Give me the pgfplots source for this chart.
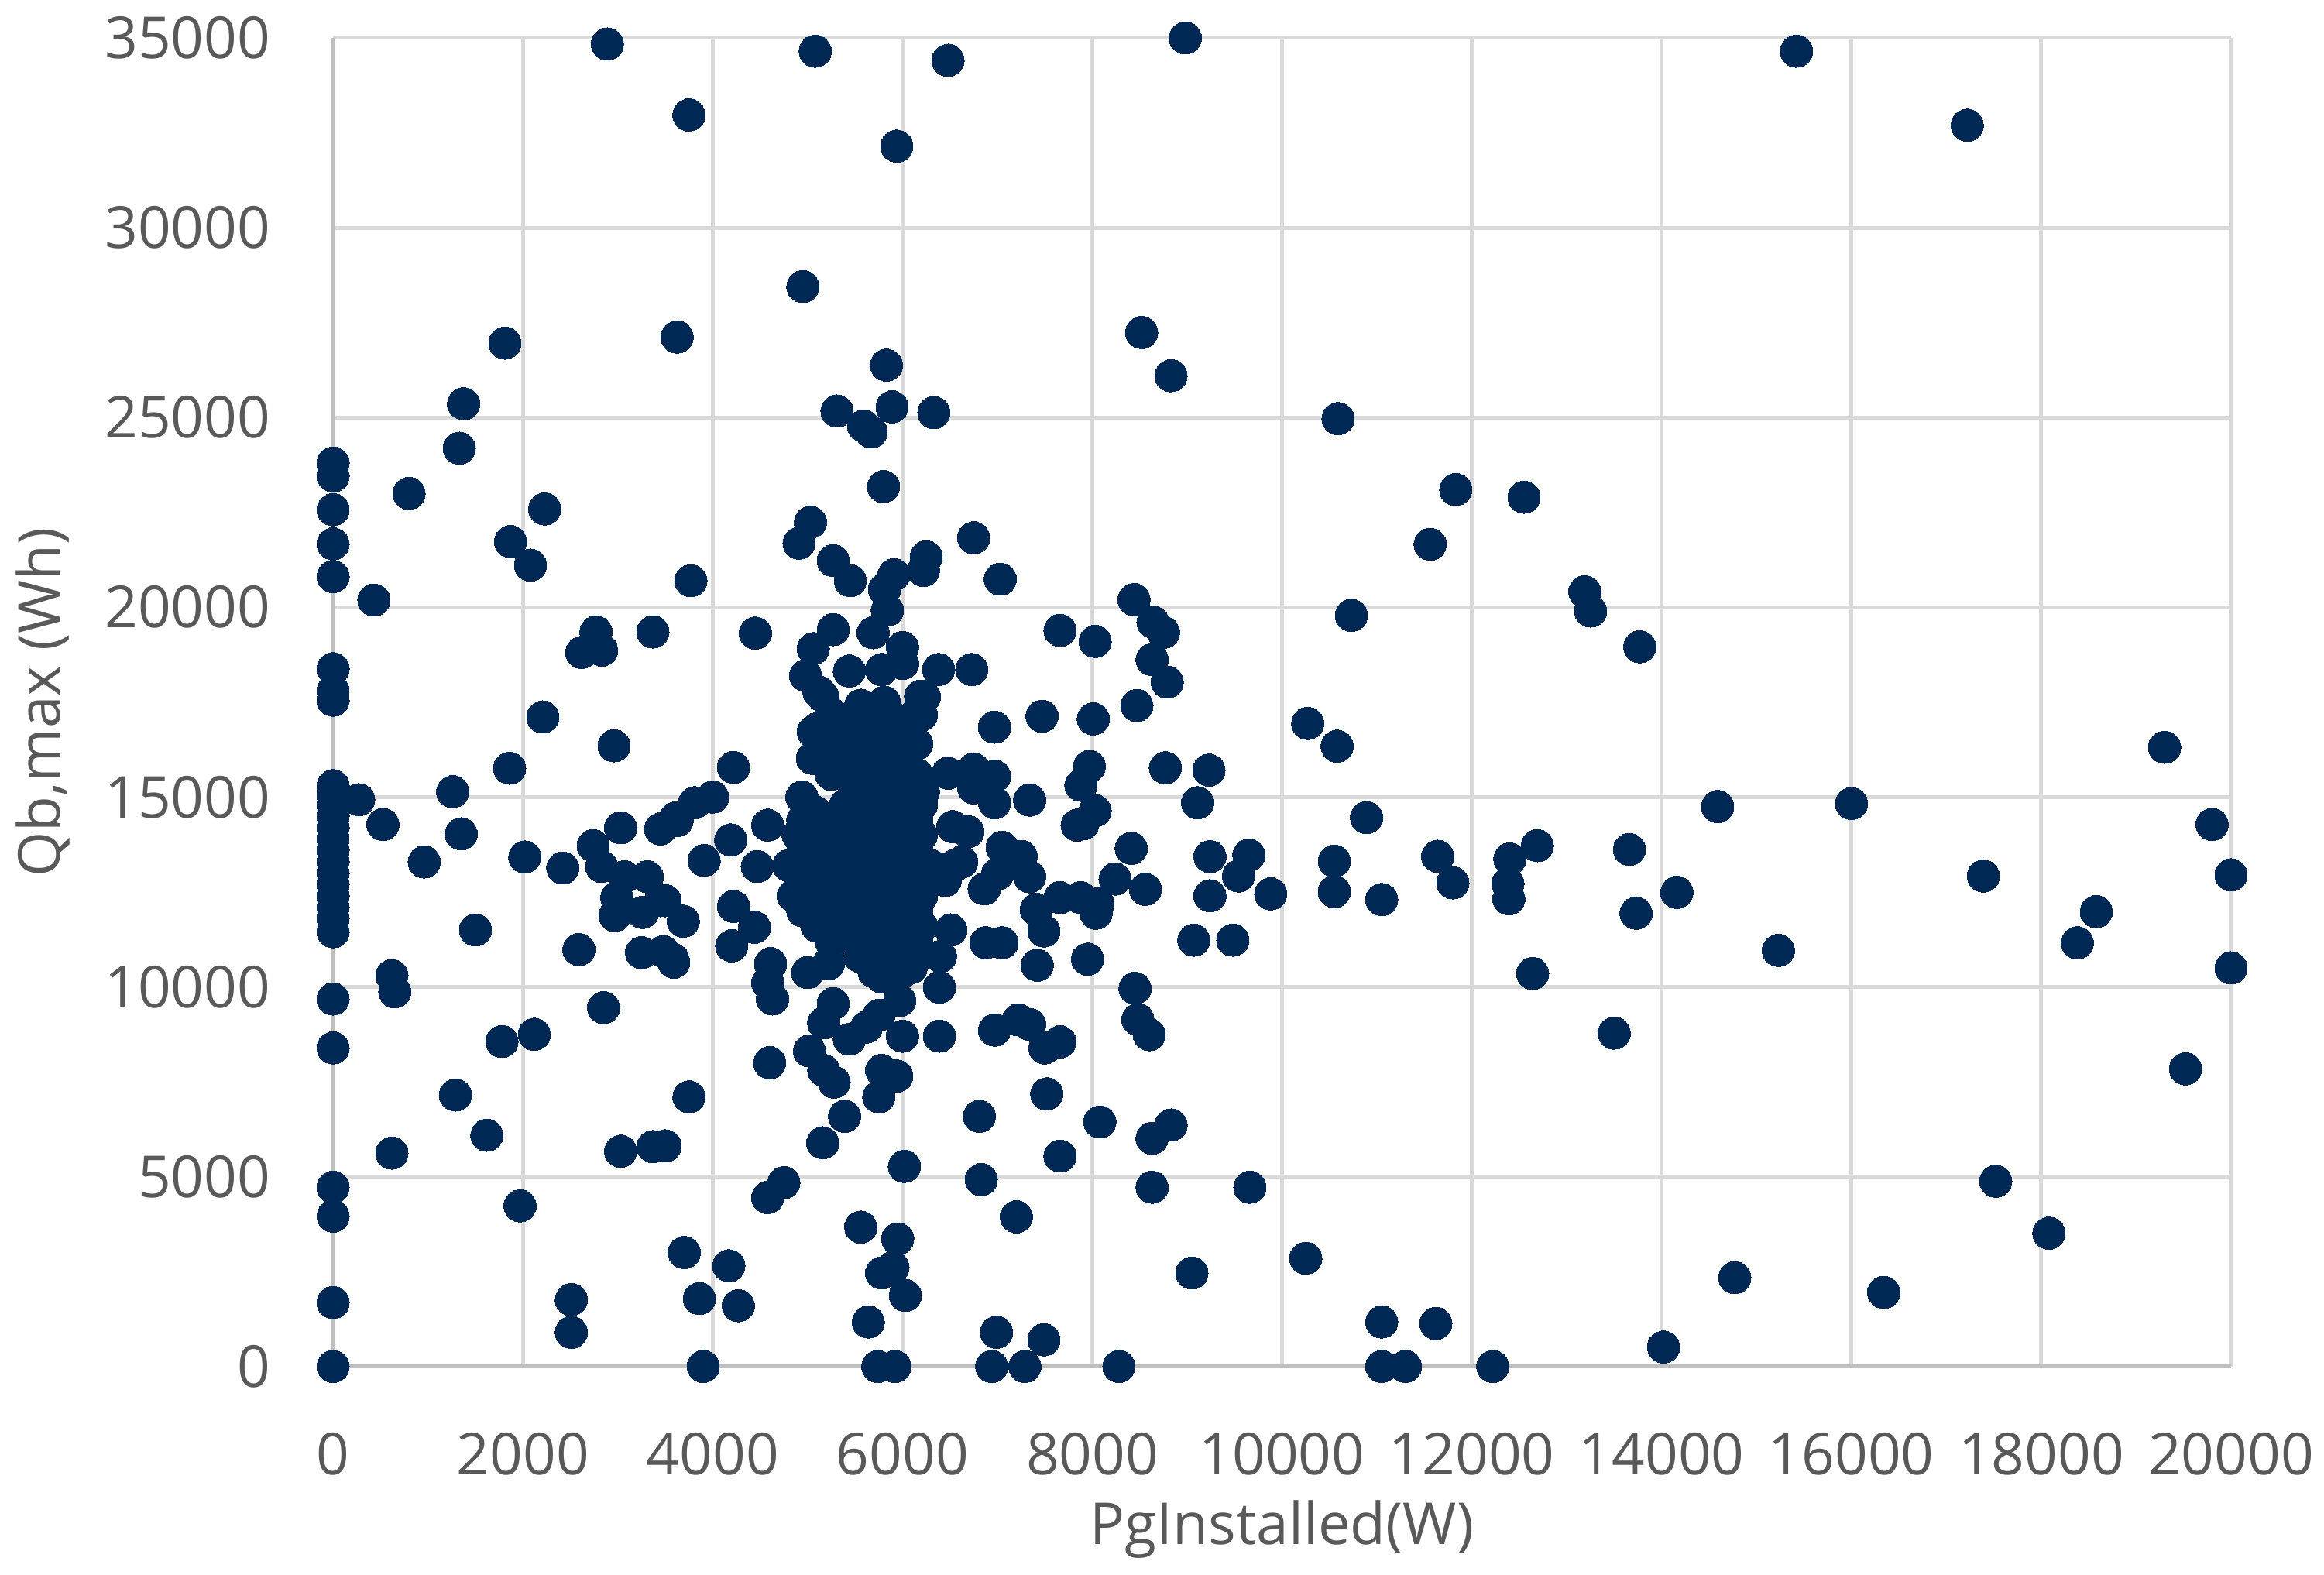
\documentclass[border=0pt]{standalone}
\usepackage{pgfplots}
\pgfplotsset{compat=1.18}
\usepackage{fontspec}
\setmainfont{Open Sans}
\definecolor{navy}{RGB}{0,40,85}
\definecolor{gridgray}{RGB}{217,217,217}
\definecolor{axisgray}{RGB}{191,191,191}
\definecolor{textgray}{RGB}{89,89,89}
\pgfplotstableread{
X Y
2890 34840
5080 34650
6480 34410
8980 35000
15420 34650
17220 32700
3750 32970
5940 32150
4950 28450
3625 27120
1810 26960
5830 26380
8520 27240
8830 26100
1375 25360
5310 25170
5890 25280
6330 25130
5590 24780
5670 24620
10590 24970
1330 24190
0 23800
0 23460
5800 23180
800 23000
11830 23100
12550 22900
0 22570
2230 22590
5030 22240
0 21670
1870 21730
4910 21690
6750 21830
11560 21660
2080 21110
6250 21330
6220 20970
5270 21230
5450 20700
5910 20860
5810 20470
0 20810
3770 20700
7030 20740
430 20190
8440 20200
13190 20410
13250 19900
10730 19790
5840 19920
5270 19410
5690 19330
6000 18940
4450 19320
5060 18910
4980 18200
5440 18320
5780 18360
6000 18520
6380 18360
6730 18360
7660 19390
8030 19100
8640 19610
8750 19340
8630 18620
8790 18030
8470 17410
8010 17060
13770 18960
2770 19350
2620 18810
2830 18870
3370 19350
0 18380
0 17800
0 17550
2210 17110
2960 16350
1860 15760
1260 15140
270 14930
10270 16940
10580 16340
7970 15810
8770 15770
9230 15710
9110 14850
8030 14640
7900 14290
10890 14460
8410 13650
8240 12840
8560 12570
9240 13430
9650 13470
9540 12920
9240 12400
9880 12450
10550 13310
10550 12510
11050 12300
11640 13440
11800 12740
12400 13370
12690 13720
12380 12720
12390 12320
12640 10350
9070 11230
9480 11230
8040 11940
7950 10730
8450 9960
8480 9140
8600 8740
5160 17660
5560 17420
5810 17500
6190 17660
5120 17770
6230 17640
6200 17160
5060 16720
5500 16880
6000 16640
6970 16840
7470 17130
5050 16020
5470 15940
5880 15780
4220 15780
6480 15630
6750 15740
6970 15550
7880 15310
7840 14260
6220 15150
5500 15230
5840 15150
4940 15000
4000 15000
3810 14850
3625 14380
4580 14260
5080 14610
4190 13870
3910 13330
4470 13170
6625 13290
7050 13680
7200 13280
7340 14920
6970 14850
6750 15240
6530 14220
6690 14090
7000 12970
7340 12900
7250 13440
6860 12580
7660 12350
7880 12350
8060 12190
7410 12040
6510 11500
3500 12270
3690 11730
4220 12120
4440 11570
0 15300
0 15050
0 14800
0 14500
0 14200
0 13900
0 13600
0 13300
0 13000
0 12700
0 12400
0 12100
0 11800
0 11450
0 9680
0 8390
0 4720
0 3960
0 1680
0 0
525 14280
1350 14030
960 13290
2020 13420
2420 13130
2740 13720
3030 14190
2830 13170
3070 12900
3310 12900
3450 14160
3610 14450
2990 12350
3450 12270
2970 11880
3260 11960
1500 11500
620 10300
650 9870
2590 10980
3250 10900
3480 10930
3590 10650
2850 9450
1780 8560
2120 8750
1290 7150
1620 6090
620 5620
3030 5670
3370 5790
1970 4230
2510 1760
2510 900
3900 0
5740 0
5920 0
6940 0
7290 0
8280 0
6990 900
7490 700
5640 1170
3860 1790
4270 1600
4170 2650
3700 3000
5560 3670
5950 3360
5780 2460
5900 2610
6030 1870
7200 3940
6830 4920
6020 5270
7660 5540
4580 4450
4750 4840
5160 5890
5390 6590
6810 6590
7520 7180
8080 6440
3750 7100
5750 7100
5940 7650
5780 7800
5280 7490
5170 7800
5020 8310
4600 8000
3500 5810
6390 8700
6970 8860
7220 9130
7340 9010
7500 8390
7660 8550
6390 9990
7420 10570
5440 8620
5620 8940
6000 8700
5750 9250
5970 9640
5270 9560
5170 9050
5000 10380
5220 10610
4630 9680
4580 10110
4610 10610
4200 11080
3580 10730
5780 10260
6090 10500
6880 11160
7050 11160
7490 11470
16000 14830
14590 14750
19800 14280
19300 16310
17390 12920
20000 12950
20000 10500
13660 13620
13730 11940
14160 12490
15230 10960
13500 8780
18580 11980
18380 11160
19520 7840
17520 4880
18080 3510
16340 1950
14770 2340
14020 510
11620 1130
11050 1170
11050 0
11300 0
12220 0
10250 2850
9050 2460
9660 4720
8830 6360
8630 6010
8630 4720
}\outer
\pgfplotstableread{
X Y
5250 17200
5550 17200
5850 17200
6150 17200
5100 16800
5400 16800
5700 16800
6000 16800
5250 16400
5550 16400
5850 16400
6150 16400
5100 16000
5400 16000
5700 16000
6000 16000
5250 15600
5550 15600
5850 15600
6150 15600
5500 15200
5800 15200
6100 15200
5400 14800
5700 14800
6000 14800
6200 14800
4950 14400
5250 14400
5550 14400
5850 14400
6150 14400
4900 14000
5100 14000
5400 14000
5700 14000
6000 14000
6200 14000
4950 13600
5250 13600
5550 13600
5850 13600
6150 13600
4800 13200
5100 13200
5400 13200
5700 13200
6000 13200
6300 13200
6550 13200
4950 12800
5250 12800
5550 12800
5850 12800
6150 12800
6450 12800
4850 12400
5100 12400
5400 12400
5700 12400
6000 12400
6200 12400
4950 12000
5250 12000
5550 12000
5850 12000
6150 12000
5100 11600
5400 11600
5700 11600
6000 11600
6200 11600
5250 11200
5550 11200
5850 11200
6150 11200
5550 10800
5850 10800
6150 10800
6400 10800
5700 10400
6000 10400
}\core
\begin{document}
\begin{tikzpicture}
\path[use as bounding box] (0,0) rectangle (600bp,406.5bp);
\begin{axis}[
  at={(86bp,53.7bp)}, anchor=south west,
  scale only axis, width=490bp, height=343bp,
  xmin=0, xmax=20000, ymin=0, ymax=35000,
  xtick={0,2000,...,20000}, ytick={0,5000,...,35000},
  scaled ticks=false,
  /pgf/number format/1000 sep={},
  /pgf/number format/assume math mode=true,
  grid=major,
  major grid style={draw=gridgray, line width=1bp},
  axis lines*=left,
  axis line style={draw=axisgray, line width=1bp, -},
  major tick length=0pt,
  tick style={draw=none},
  ticklabel style={font=\fontsize{15}{18}\selectfont, text=textgray},
  xticklabel style={anchor=north, inner sep=0pt, yshift=-17bp},
  yticklabel style={anchor=east, inner sep=0pt, xshift=-16bp},
  xlabel={PgInstalled(W)},
  ylabel={Qb,max (Wh)},
  label style={font=\fontsize{15}{18}\selectfont, text=textgray},
  xlabel style={at={(axis description cs:0.5,0)}, anchor=center, yshift=-42bp},
  ylabel style={at={(axis description cs:-0.153,0.5)}, anchor=center},
  clip=false,
]
\addplot[only marks, mark=*, mark size=4.2pt, mark options={fill=navy, draw=navy, line width=0pt}] table[x=X, y=Y] {\outer};
\addplot[only marks, mark=*, mark size=4.2pt, mark options={fill=navy, draw=navy, line width=0pt}] table[x=X, y=Y] {\core};
\end{axis}
\end{tikzpicture}
\end{document}
